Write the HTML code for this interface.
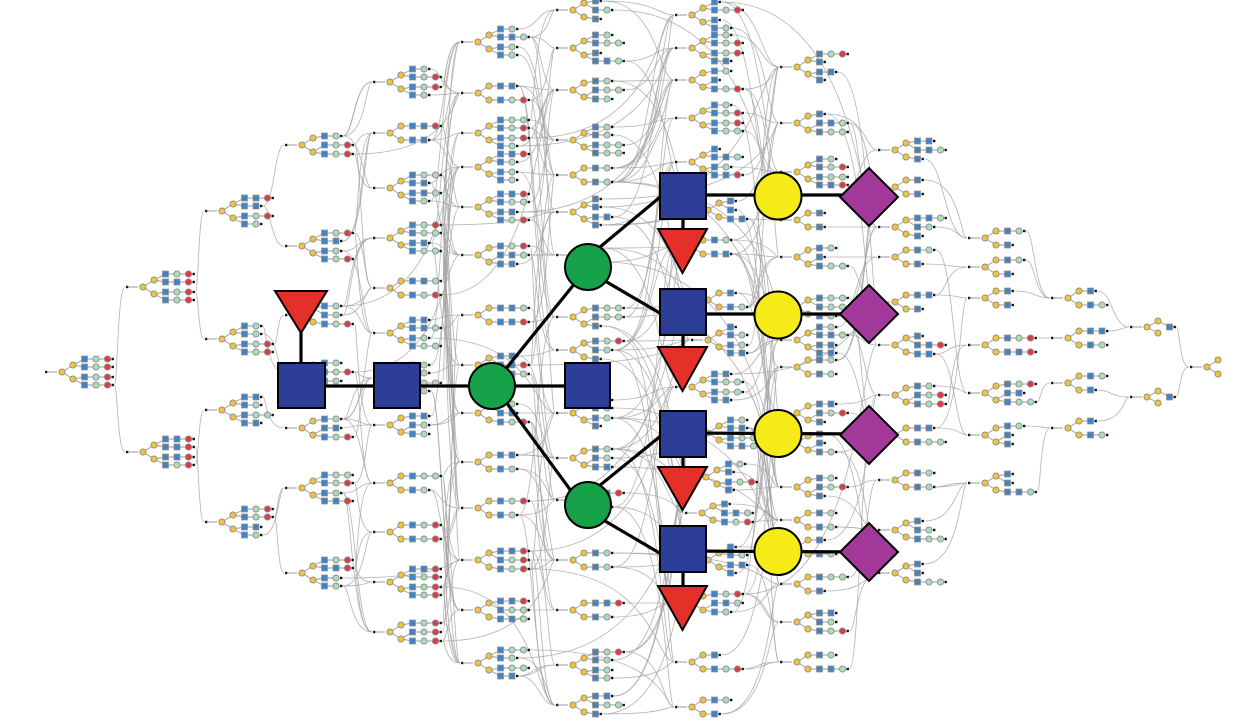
<!DOCTYPE html>
<html>
<head>
<meta charset="utf-8">
<style>
html,body{margin:0;padding:0;background:#fff;width:1260px;height:720px;overflow:hidden;}
svg{display:block;}
</style>
</head>
<body>
<svg id="s" width="1260" height="720" viewBox="0 0 1260 720" xmlns="http://www.w3.org/2000/svg">
<rect width="1260" height="720" fill="#fff"/>
<g id="E" fill="none" stroke="#a4a4a4" stroke-width="0.85" stroke-opacity="0.8"></g>
<path id="L" fill="none" stroke="#9a9a9a" stroke-width="0.9" d=""/>
<g id="G"></g>
<g id="main">
  <g stroke="#000" stroke-width="3.2" fill="none">
    <line x1="301" y1="325" x2="301" y2="386"/>
    <line x1="301" y1="386" x2="588" y2="386"/>
    <line x1="492" y1="386" x2="588" y2="267"/>
    <line x1="492" y1="383" x2="585" y2="510"/>
    <line x1="588" y1="257" x2="665" y2="193"/>
    <line x1="588" y1="271" x2="670" y2="319"/>
    <line x1="588" y1="495" x2="668" y2="430"/>
    <line x1="588" y1="511" x2="668" y2="558"/>
    <line x1="683" y1="195" x2="869" y2="195"/>
    <line x1="683" y1="314" x2="869" y2="314"/>
    <line x1="683" y1="433" x2="869" y2="434"/>
    <line x1="683" y1="551" x2="869" y2="552"/>
    <line x1="683" y1="200" x2="683" y2="240"/>
    <line x1="683" y1="315" x2="683" y2="360"/>
    <line x1="683" y1="435" x2="683" y2="480"/>
    <line x1="683" y1="552" x2="683" y2="600"/>
  </g>
  <g stroke="#000" stroke-width="2" stroke-linejoin="miter">
    <polygon points="275,291 327,291 301,333" fill="#e5302a"/>
    <rect x="278" y="363" width="47" height="45" fill="#2c3e97"/>
    <rect x="374" y="363" width="46" height="45" fill="#2c3e97"/>
    <circle cx="492" cy="386" r="23" fill="#16a249"/>
    <rect x="565" y="363" width="45" height="45" fill="#2c3e97"/>
    <circle cx="588" cy="267" r="23" fill="#16a249"/>
    <circle cx="588" cy="505" r="23" fill="#16a249"/>

    <rect x="660" y="173" width="46" height="46" fill="#2c3e97"/>
    <rect x="660" y="289" width="46" height="46" fill="#2c3e97"/>
    <rect x="660" y="411" width="46" height="46" fill="#2c3e97"/>
    <rect x="660" y="526" width="46" height="46" fill="#2c3e97"/>

    <polygon points="658,229 707,229 682.5,273" fill="#e5302a"/>
    <polygon points="658,347 707,347 682.5,391" fill="#e5302a"/>
    <polygon points="658,467 707,467 682.5,510" fill="#e5302a"/>
    <polygon points="658,586 707,586 682.5,630" fill="#e5302a"/>

    <circle cx="778" cy="196" r="23.5" fill="#f6eb16"/>
    <circle cx="778" cy="315" r="23.5" fill="#f6eb16"/>
    <circle cx="778" cy="433.5" r="23.5" fill="#f6eb16"/>
    <circle cx="778" cy="551.5" r="23.5" fill="#f6eb16"/>

    <polygon points="840,197 869,168 898,197 869,226" fill="#a2399a"/>
    <polygon points="840,314 869,285 898,314 869,343" fill="#a2399a"/>
    <polygon points="840,435 869,406 898,435 869,464" fill="#a2399a"/>
    <polygon points="840,552 869,523 898,552 869,581" fill="#a2399a"/>
  </g>
</g>
</svg>
<script>
(function(){
var seed=20240611;
function r(){seed=(seed*16807)%2147483647;return (seed-1)/2147483646;}
function ri(a,b){return a+Math.floor(r()*(b-a+1));}
var C=[
[62,[372],3,3,4,4,1],
[143,[287,452],3,3,4,4,1],
[222,[211,339,410,522],2,3,3,4,.85],
[302,[145,246,315,372,428,488,573],2,3,3,4,.75],
[390,[82,133,188,238,288,333,378,425,483,532,582,632],2,3,2,4,.65],
[478,[42,93,133,167,207,255,315,365,413,462,508,560,610,663],2,3,2,4,.55],
[573,[10,48,90,140,175,212,255,317,350,413,458,500,560,610,665,705],1,3,2,4,.5],
[692,[15,48,80,118,162,210,247,300,340,387,433,477,513,560,603,662,707],1,3,2,4,.45],
[797,[67,123,172,220,257,307,340,367,413,443,487,520,547,584,622,662],1,3,2,4,.35],
[895,[150,187,227,257,302,345,395,435,480,530,573],1,3,2,3,.25],
[985,[238,267,298,345,393,435,483],1,3,2,3,.2],
[1068,[298,338,383,428],1,2,2,2,0],
[1147,[327,397],1,1,1,2,0],
[1207,[367],0,0,0,0,0]
];
var XO={7:{210:708,300:708,340:708,433:708,477:706,513:702,560:708}};
var OFF={0:[],1:[0],2:[-7,7],3:[-9,0,9],4:[-13,-5,5,13]};
function res(t,x,y){
  x=+x.toFixed(1);
  if(t=='Y')return '<circle cx="'+x+'" cy="'+y+'" r="3.1" fill="#f0c53a" stroke="#8a8a8a" stroke-width=".9"/>';
  if(t=='B')return '<rect x="'+(x-2.9).toFixed(1)+'" y="'+(y-2.9)+'" width="5.8" height="5.8" fill="#3f84c6" stroke="#8a8a8a" stroke-width=".9"/>';
  if(t=='G')return '<circle cx="'+x+'" cy="'+y+'" r="3.1" fill="#aedcbb" stroke="#8a8a8a" stroke-width=".9"/>';
  return '<circle cx="'+x+'" cy="'+y+'" r="3.1" fill="#e23a44" stroke="#8a8a8a" stroke-width=".9"/>';
}
var nodes=[],gl='',ln='',ed='';
for(var k=0;k<C.length;k++){
  var c=C[k];nodes[k]=[];
  for(var q=0;q<c[1].length;q++){
    var y=c[1][q];var x=(XO[k]&&XO[k][y])||c[0];
    gl+='<rect x="'+(x-17)+'" y="'+(y-1.2)+'" width="2.4" height="2.4" fill="#1a1a1a"/>';
    ln+='M'+(x-14)+' '+y+'H'+(x-5);
    var nr=ri(c[4],c[5]);
    var hs=[[x+11,y-7],[x+11,y+7]];
    if(nr==1)hs=[[x+11,y-6],[x+11,y+6]];
    for(var h=0;h<2;h++){ln+='M'+x+' '+y+'L'+hs[h][0]+' '+hs[h][1];}
    var offs=OFF[nr],ends=[],rs='';
    for(var o=0;o<offs.length;o++){
      var off=offs[o];var L=ri(c[2],c[3]);if(L<1)L=1;
      var hh=off<0?hs[0]:(off>0?hs[1]:hs[ri(0,1)]);
      var px=hh[0],py=hh[1];
      var seq=['B',r()<0.25?'B':'G',r()<c[6]?'R':'G'];
      for(var i=0;i<L;i++){
        var rx=x+11+11.5*(i+1),ry=y+off;
        ln+='M'+px.toFixed(1)+' '+py+'L'+rx.toFixed(1)+' '+ry;
        px=rx;py=ry;rs+=res(seq[i],rx,ry);
      }
      rs+='<rect x="'+(px+4).toFixed(1)+'" y="'+(py-1.2)+'" width="2.4" height="2.4" fill="#111"/>';
      ends.push([px+7,py]);
    }
    gl+=res('Y',x,y)+res('Y',hs[0][0],hs[0][1])+res('Y',hs[1][0],hs[1][1])+rs;
    if(!ends.length)ends=[[x+15,y-7],[x+15,y+7]];
    nodes[k].push({x:x,y:y,ends:ends,out:0});
  }
}
function edge(a,b){
  a.out=1;
  var e=a.ends[Math.floor(r()*a.ends.length)];
  var sx=e[0],sy=e[1],tx=b.x-18,ty=b.y;
  var gx=tx-5-r()*18;if(gx<sx+3)gx=sx+3;
  ed+='<path d="M'+sx.toFixed(1)+' '+sy+'C'+gx.toFixed(1)+' '+sy+' '+gx.toFixed(1)+' '+ty+' '+tx+' '+ty+'"/>';
}
function nearest(A,y){var best=A[0],bd=1e9;for(var i=0;i<A.length;i++){var d=Math.abs(A[i].y-y);if(d<bd){bd=d;best=A[i];}}return best;}
for(var k=0;k<13;k++){
  var A=nodes[k],B=nodes[k+1];
  for(var j=0;j<B.length;j++){
    var b=B[j];
    edge(nearest(A,b.y),b);
    var n=(k>=4&&k<=7)?ri(2,5):((k==3||k==8)?ri(1,3):((k==2||k==9||k==10)?ri(0,1):0));
    var R=(k>=4&&k<=8)?280:150;
    var cand=A.filter(function(a){return Math.abs(a.y-b.y)<R;});
    for(var m=0;m<n&&cand.length;m++){edge(cand[Math.floor(r()*cand.length)],b);}
  }
  for(var j=0;j<A.length;j++){if(!A[j].out)edge(A[j],nearest(B,A[j].y));}
}
for(var k=4;k<=8;k++){
  var A=nodes[k-1],B=nodes[k+1];
  for(var j=0;j<B.length;j++){
    if(r()<0.45){
      var b=B[j];
      var cand=A.filter(function(a){return Math.abs(a.y-b.y)<260;});
      if(cand.length)edge(cand[Math.floor(r()*cand.length)],b);
    }
  }
}
document.getElementById('E').innerHTML=ed;
document.getElementById('L').setAttribute('d',ln);
document.getElementById('G').innerHTML=gl;
})();
</script>
</body>
</html>
